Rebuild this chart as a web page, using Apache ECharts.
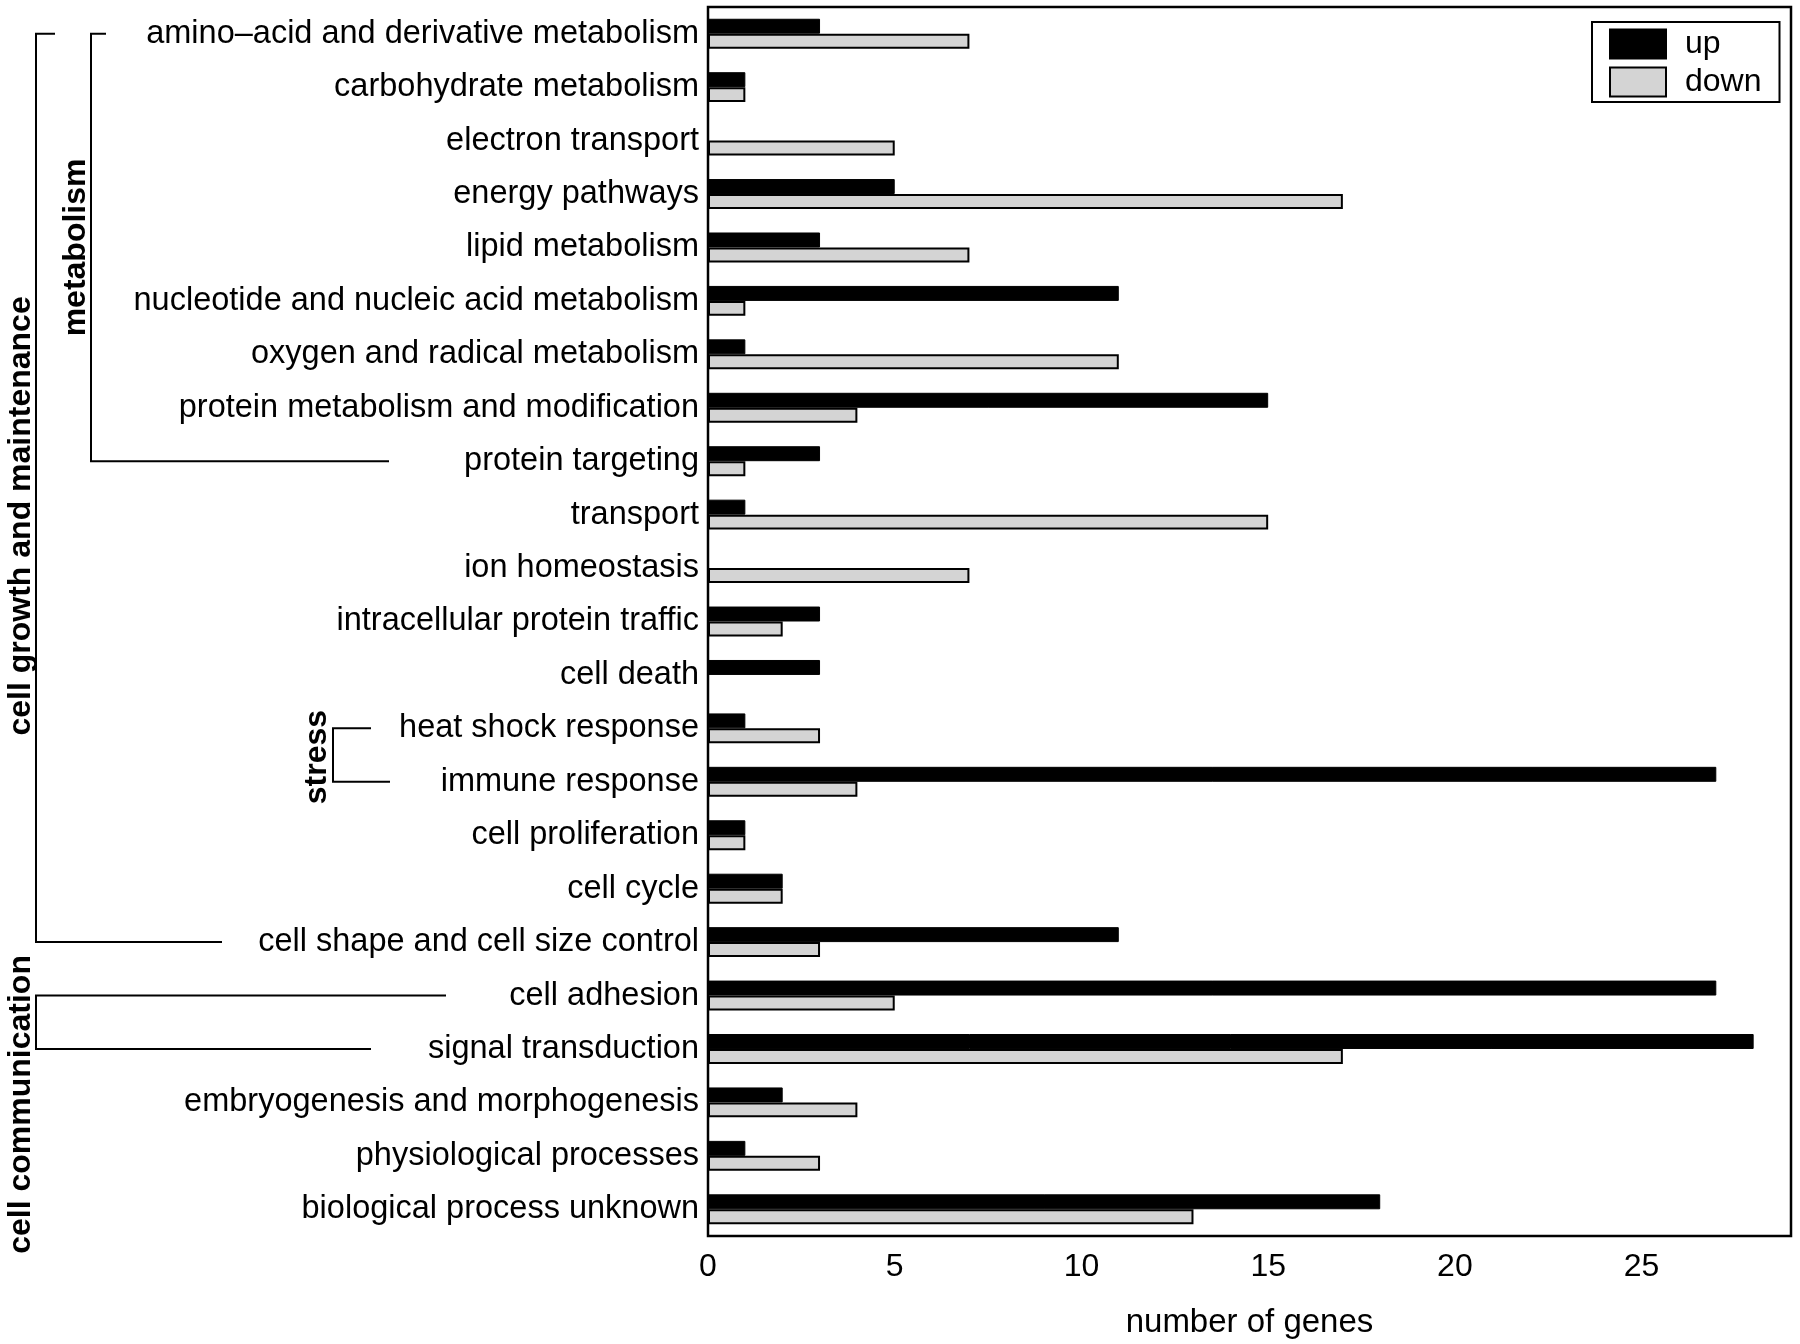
<!DOCTYPE html>
<html>
<head>
<meta charset="utf-8">
<script src="https://cdn.jsdelivr.net/npm/echarts@6/dist/echarts.min.js"></script>
<style>
html,body{margin:0;padding:0;background:#fff;}
#chart{width:1800px;height:1344px;}
</style>
</head>
<body>
<div id="chart"></div>
<script>
var categories = [
  'amino\u2013acid and derivative metabolism',
  'carbohydrate metabolism',
  'electron transport',
  'energy pathways',
  'lipid metabolism',
  'nucleotide and nucleic acid metabolism',
  'oxygen and radical metabolism',
  'protein metabolism and modification',
  'protein targeting',
  'transport',
  'ion homeostasis',
  'intracellular protein traffic',
  'cell death',
  'heat shock response',
  'immune response',
  'cell proliferation',
  'cell cycle',
  'cell shape and cell size control',
  'cell adhesion',
  'signal transduction',
  'embryogenesis and morphogenesis',
  'physiological processes',
  'biological process unknown'
];
var upValues   = [3, 1, 0, 5, 3, 11, 1, 15, 3, 1, 0, 3, 3, 1, 27, 1, 2, 11, 27, 28, 2, 1, 18];
var downValues = [7, 1, 5, 17, 7, 1, 11, 4, 1, 15, 7, 2, 0, 3, 4, 1, 2, 3, 5, 17, 4, 3, 13];
var xTicks = [0, 5, 10, 15, 20, 25];

var FONT = '"Liberation Sans", Arial, Helvetica, sans-serif';
var chart = echarts.init(document.getElementById('chart'), null, {renderer: 'canvas'});

chart.setOption({
  animation: false,
  backgroundColor: '#ffffff',
  grid: {
    left: 708, top: 7, right: 9, bottom: 86,
    show: true, borderColor: '#000', borderWidth: 2.5, backgroundColor: 'transparent'
  },
  legend: {
    data: [{name: 'up', icon: 'rect'}, {name: 'down', icon: 'rect'}],
    orient: 'vertical',
    left: 1592, top: 22,
    itemWidth: 56, itemHeight: 29, itemGap: 6,
    padding: [6, 18, 4, 17],
    borderColor: '#000', borderWidth: 2, borderRadius: 0,
    backgroundColor: '#fff',
    textStyle: {fontFamily: FONT, fontSize: 32, color: '#000', lineHeight: 29, padding: [0, 0, 0, 14]},
    selectedMode: false
  },
  xAxis: {
    type: 'value',
    min: 0, max: 29, interval: 5,
    name: 'number of genes',
    nameLocation: 'middle',
    nameGap: 70,
    nameTextStyle: {fontFamily: FONT, fontSize: 33, color: '#000'},
    axisLine: {show: false},
    axisTick: {show: false},
    splitLine: {show: false},
    axisLabel: {
      fontFamily: FONT, fontSize: 32, color: '#000', margin: 15,
      formatter: function (v) { return xTicks.indexOf(v) >= 0 ? String(v) : ''; }
    }
  },
  yAxis: {
    type: 'category',
    data: categories,
    inverse: true,
    axisLine: {show: false},
    axisTick: {show: false},
    splitLine: {show: false},
    axisLabel: {fontFamily: FONT, fontSize: 32.5, color: '#000', margin: 9, interval: 0}
  },
  series: [
    {
      name: 'up', type: 'bar', data: upValues,
      barCategoryGap: '44%', barGap: '0%',
      itemStyle: {color: '#000', borderColor: '#000', borderWidth: 1}
    },
    {
      name: 'down', type: 'bar', data: downValues,
      barCategoryGap: '44%', barGap: '0%',
      itemStyle: {color: '#d4d4d4', borderColor: '#000', borderWidth: 2}
    }
  ]
});

function yc(i) { return chart.convertToPixel({yAxisIndex: 0}, categories[i]); }
var y0 = yc(0), y8 = yc(8), y13 = yc(13), y14 = yc(14), y17 = yc(17), y18 = yc(18), y19 = yc(19), y20 = yc(20);
var lineStyle = {stroke: '#000', lineWidth: 2, fill: null};
var BOLD = 'bold 32px ' + FONT;
function bracket(pts) { return {type: 'polyline', shape: {points: pts}, style: lineStyle, silent: true}; }
function vtext(t, x, y) {
  return {type: 'text', x: x, y: y, rotation: Math.PI / 2, silent: true,
    style: {text: t, font: BOLD, fill: '#000', align: 'center', verticalAlign: 'middle'}};
}
chart.setOption({
  graphic: [
    bracket([[55, y0], [36, y0], [36, y17], [222, y17]]),
    bracket([[106, y0], [91, y0], [91, y8], [389, y8]]),
    bracket([[371, y13], [333, y13], [333, y14], [390, y14]]),
    bracket([[446, y18], [36, y18], [36, y19], [371, y19]]),
    vtext('cell growth and maintenance', 21, (y0 + y17) / 2 + 28),
    vtext('metabolism', 76, (y0 + y8) / 2),
    vtext('stress', 317, (y13 + y14) / 2 + 2),
    vtext('cell communication', 21, y20 + 2)
  ]
});
</script>
</body>
</html>
